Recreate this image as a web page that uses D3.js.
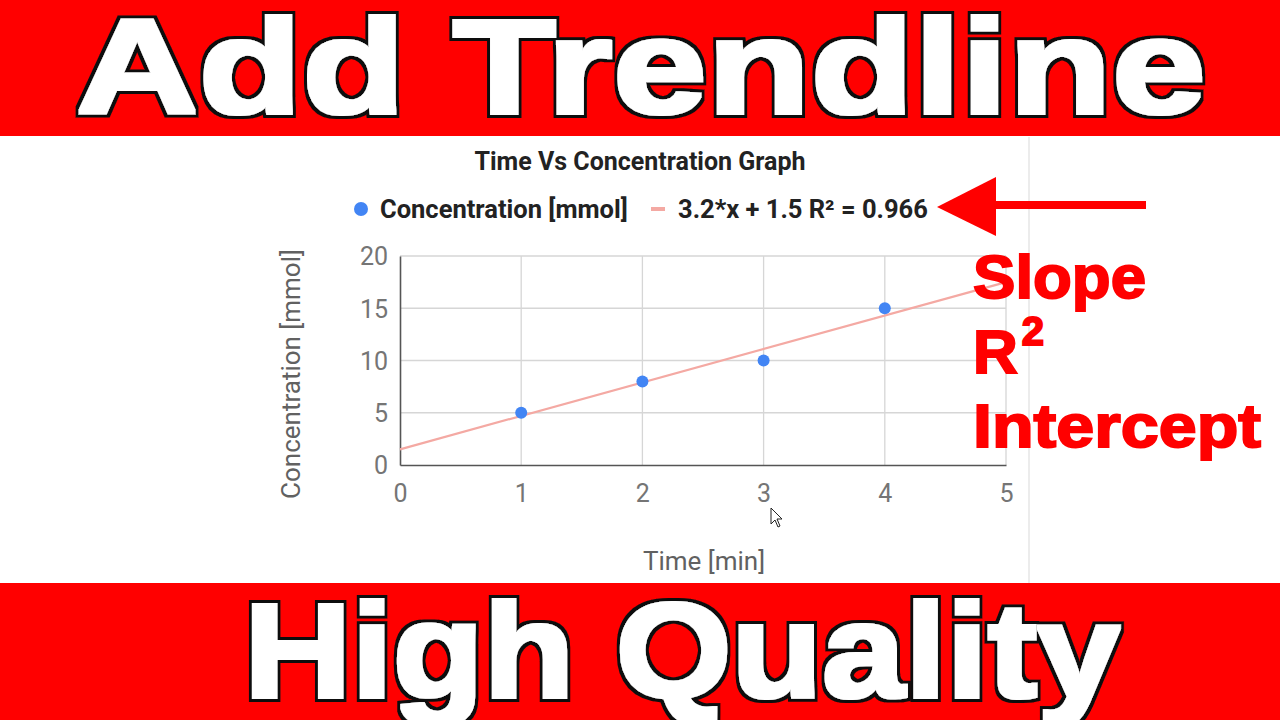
<!DOCTYPE html>
<html>
<head>
<meta charset="utf-8">
<script src="https://cdn.jsdelivr.net/npm/d3@7"></script>
<style>
  html, body { margin: 0; padding: 0; background: #fff; }
  svg { display: block; }
</style>
</head>
<body>
<div id="chart"></div>
<script>
// Chart data
const timeMin = [1, 2, 3, 4];
const concentration = [5, 8, 10, 15];
const xTicks = [0, 1, 2, 3, 4, 5];
const yTicks = [0, 5, 10, 15, 20];
const trendSlope = 3.2;
const trendIntercept = 1.5;
const trendRange = [0, 5];
const legendLabels = ['Concentration [mmol]', '3.2*x + 1.5 R\u00b2 = 0.966'];
const bannerTop = 'Add Trendline';
const bannerBottom = 'High Quality';
const noteLines = ['Slope', 'R', 'Intercept'];

const W = 1280, H = 720;
const font = 'Roboto, "Noto Sans", sans-serif';
const heavy = '"Liberation Sans", Arial, sans-serif';

const svg = d3.select('#chart').append('svg')
    .attr('width', W)
    .attr('height', H);

// outline filter for the banner lettering: thicker white glyphs with a dark rim
const filt = svg.append('defs').append('filter')
    .attr('id', 'outline')
    .attr('x', '-5%').attr('y', '-20%').attr('width', '110%').attr('height', '140%');
filt.append('feMorphology').attr('in', 'SourceAlpha').attr('operator', 'dilate').attr('radius', 2).attr('result', 'thick');
filt.append('feMorphology').attr('in', 'SourceAlpha').attr('operator', 'dilate').attr('radius', 5).attr('result', 'outer');
filt.append('feFlood').attr('flood-color', '#111').attr('result', 'dark');
filt.append('feComposite').attr('in', 'dark').attr('in2', 'outer').attr('operator', 'in').attr('result', 'rim');
filt.append('feFlood').attr('flood-color', '#fff').attr('result', 'light');
filt.append('feComposite').attr('in', 'light').attr('in2', 'thick').attr('operator', 'in').attr('result', 'body');
const merge = filt.append('feMerge');
merge.append('feMergeNode').attr('in', 'rim');
merge.append('feMergeNode').attr('in', 'body');

svg.append('rect').attr('width', W).attr('height', H).attr('fill', '#fff');

// panel separator on the right
svg.append('line')
    .attr('x1', 1029).attr('x2', 1029)
    .attr('y1', 137).attr('y2', 583)
    .attr('stroke', '#d9d9d9').attr('stroke-width', 1);

const x = d3.scaleLinear().domain([0, 5]).range([400, 1006]);
const y = d3.scaleLinear().domain([0, 20]).range([465, 256]);

// grid
const grid = svg.append('g');
grid.selectAll('.vgrid')
    .data(xTicks.slice(1))
    .enter().append('line')
    .attr('x1', d => x(d)).attr('x2', d => x(d))
    .attr('y1', y(20)).attr('y2', y(0))
    .attr('stroke', '#d6d6d6').attr('stroke-width', 1.3);
grid.selectAll('.hgrid')
    .data(yTicks.slice(1))
    .enter().append('line')
    .attr('x1', x(0)).attr('x2', x(5))
    .attr('y1', d => y(d)).attr('y2', d => y(d))
    .attr('stroke', '#d6d6d6').attr('stroke-width', 1.3);

// axes
const xAxis = svg.append('g')
    .attr('transform', `translate(0,${y(0)})`)
    .call(d3.axisBottom(x).tickValues(xTicks).tickFormat(d3.format('d')).tickSize(0).tickPadding(19));
const yAxis = svg.append('g')
    .attr('transform', `translate(${x(0)},0)`)
    .call(d3.axisLeft(y).tickValues(yTicks).tickSize(0).tickPadding(12));
[xAxis, yAxis].forEach(a => {
    a.select('.domain').attr('stroke', '#555').attr('stroke-width', 1.6);
    a.selectAll('text')
        .style('font-family', font)
        .style('font-size', '25px')
        .attr('fill', '#757575');
});
yAxis.selectAll('text').attr('dy', '0.35em');

// trendline
const trendLine = d3.line()
    .x(d => x(d))
    .y(d => y(trendSlope * d + trendIntercept));
svg.append('path')
    .datum(trendRange)
    .attr('fill', 'none')
    .attr('stroke', '#f4a9a3')
    .attr('stroke-width', 2.2)
    .attr('d', trendLine);

// points
svg.selectAll('.dot')
    .data(timeMin)
    .enter().append('circle')
    .attr('class', 'dot')
    .attr('cx', d => x(d))
    .attr('cy', (d, i) => y(concentration[i]))
    .attr('r', 6)
    .attr('fill', '#4285f4');

// axis titles
svg.append('text')
    .attr('x', 704).attr('y', 570)
    .attr('text-anchor', 'middle')
    .style('font-family', font).style('font-size', '26px')
    .attr('fill', '#616161')
    .text('Time [min]');
svg.append('text')
    .attr('transform', 'translate(300,374) rotate(-90)')
    .attr('text-anchor', 'middle')
    .style('font-family', font).style('font-size', '26px')
    .attr('fill', '#616161')
    .text('Concentration [mmol]');

// title
svg.append('text')
    .attr('x', 640).attr('y', 170)
    .attr('text-anchor', 'middle')
    .style('font-family', font).style('font-size', '25px').style('font-weight', 'bold')
    .attr('fill', '#222')
    .text('Time Vs Concentration Graph');

// legend
svg.append('circle')
    .attr('cx', 361).attr('cy', 209).attr('r', 7)
    .attr('fill', '#4285f4');
svg.append('text')
    .attr('x', 380).attr('y', 218)
    .style('font-family', font).style('font-size', '25.5px').style('font-weight', 'bold')
    .attr('fill', '#222')
    .text(legendLabels[0]);
svg.append('line')
    .attr('x1', 651).attr('x2', 665)
    .attr('y1', 209).attr('y2', 209)
    .attr('stroke', '#f4a9a3').attr('stroke-width', 4);
svg.append('text')
    .attr('x', 678).attr('y', 218)
    .style('font-family', font).style('font-size', '25.5px').style('font-weight', 'bold')
    .attr('fill', '#222')
    .text(legendLabels[1]);

// red arrow pointing at the equation
svg.append('rect')
    .attr('x', 990).attr('y', 201)
    .attr('width', 156).attr('height', 8)
    .attr('fill', '#f00');
svg.append('path')
    .attr('d', 'M937,207 L996,177 L996,236 Z')
    .attr('fill', '#f00');

// mouse cursor left in the screenshot
svg.append('path')
    .attr('d', 'M771,508 L771,524 L775,520 L778,527 L780,526 L777,519 L782,519 Z')
    .attr('fill', '#fff').attr('stroke', '#222').attr('stroke-width', 1);

// annotation text
const note = svg.append('g')
    .style('font-family', heavy)
    .style('font-weight', 'bold')
    .attr('fill', '#f00')
    .attr('stroke', '#f00')
    .attr('stroke-width', 2);
note.append('text').attr('x', 973).attr('y', 298)
    .style('font-size', '62px')
    .attr('textLength', 173).attr('lengthAdjust', 'spacingAndGlyphs')
    .text(noteLines[0]);
note.append('text').attr('x', 973).attr('y', 373)
    .style('font-size', '62px')
    .text(noteLines[1])
    .append('tspan')
    .attr('dx', 4).attr('dy', -28)
    .style('font-size', '40px')
    .text('2');
note.append('text').attr('x', 973).attr('y', 447)
    .style('font-size', '62px')
    .attr('textLength', 288).attr('lengthAdjust', 'spacingAndGlyphs')
    .text(noteLines[2]);

// banners
svg.append('rect').attr('x', 0).attr('y', 0).attr('width', W).attr('height', 136).attr('fill', '#f00');
svg.append('rect').attr('x', 0).attr('y', 583).attr('width', W).attr('height', H - 583).attr('fill', '#f00');

function banner(label, bx, by, size, len) {
    svg.append('text')
        .attr('x', bx).attr('y', by)
        .style('font-family', heavy).style('font-weight', 'bold').style('font-size', size + 'px')
        .attr('textLength', len).attr('lengthAdjust', 'spacingAndGlyphs')
        .attr('fill', '#fff')
        .attr('filter', 'url(#outline)')
        .text(label);
}
banner(bannerTop, 76, 113, 134, 1130);
banner(bannerBottom, 244, 697, 134, 876);
</script>
</body>
</html>
